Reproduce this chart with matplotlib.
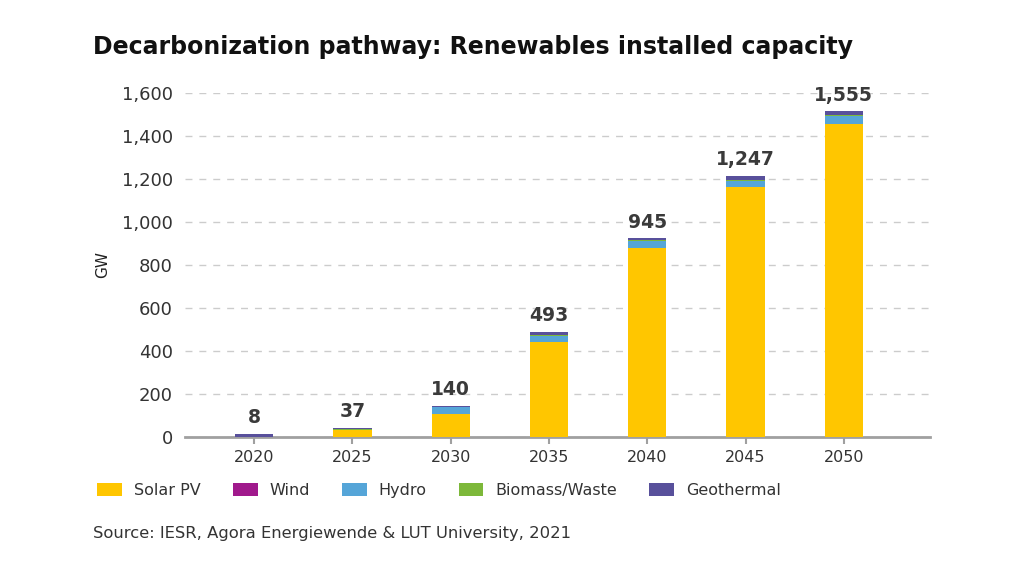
import matplotlib
matplotlib.use("Agg")
import matplotlib.pyplot as plt
import numpy as np

years = ["2020", "2025", "2030", "2035", "2040", "2045", "2050"]
solar = [0, 33, 108, 443, 879, 1163, 1455]
wind = [0, 0, 0, 1, 1, 1, 1]
hydro = [0, 2, 30, 28, 32, 28, 37]
biomass = [0, 1, 2, 4, 2, 2, 2]
geothermal = [14, 8, 5, 12, 9, 20, 18]
totals = [8, 37, 140, 493, 945, 1247, 1555]
total_labels = ["8", "37", "140", "493", "945", "1,247", "1,555"]

series = [("Solar PV", solar, "#FFC600"),
          ("Wind", wind, "#A0198C"),
          ("Hydro", hydro, "#55A5D8"),
          ("Biomass/Waste", biomass, "#7DB83A"),
          ("Geothermal", geothermal, "#58509B")]

plt.rcParams['font.family'] = ['DejaVu Sans']
fig = plt.figure(figsize=(10.24, 5.76), dpi=100)
ax = fig.add_axes([0.181, 0.241, 0.727, 0.598])

x = np.arange(len(years))
bottom = np.zeros(len(years))
for name, vals, col in series:
    ax.bar(x, vals, 0.39, bottom=bottom, color=col, label=name, zorder=3)
    bottom += np.array(vals)

for xi, top, lab in zip(x, bottom, total_labels):
    ax.annotate(lab, (xi, top), xytext=(0, 5), textcoords="offset points",
                ha="center", va="bottom", fontsize=13.5, fontweight="bold", color="#3a3a3a")

ax.set_xlim(-0.70, 6.875)
ax.set_ylim(0, 1600)
ax.set_yticks(np.arange(0, 1601, 200))
ax.set_yticklabels([f"{v:,}" for v in range(0, 1601, 200)])
ax.set_xticks(x)
ax.set_xticklabels(years)
ax.yaxis.grid(True, linestyle=(0, (5, 5)), color="#cccccc", linewidth=1, zorder=0)
for s in ["top", "right", "left"]:
    ax.spines[s].set_visible(False)
ax.spines["bottom"].set_color("#a0a0a0")
ax.spines["bottom"].set_linewidth(2)
ax.tick_params(axis="y", length=0, labelsize=13, labelcolor="#333333", pad=9)
ax.tick_params(axis="x", length=5, width=1.5, color="#a0a0a0", labelsize=11.5, labelcolor="#333333", pad=4)
ax.set_ylabel("GW", fontsize=11, color="#222222", labelpad=8)

fig.text(0.091, 0.918, "Decarbonization pathway: Renewables installed capacity",
         fontsize=17, fontweight="bold", color="#111111", va="center", ha="left")
fig.text(0.091, 0.074, "Source: IESR, Agora Energiewende & LUT University, 2021",
         fontsize=11.8, color="#333333", va="center", ha="left")

handles, labels = ax.get_legend_handles_labels()
fig.legend(handles, labels, loc="center left", bbox_to_anchor=(0.081, 0.149), ncol=5,
           frameon=False, fontsize=11.5, handlelength=1.55, handleheight=0.85,
           columnspacing=2.0, handletextpad=0.75, labelcolor="#333333")

fig.savefig("out.png", dpi=100)
